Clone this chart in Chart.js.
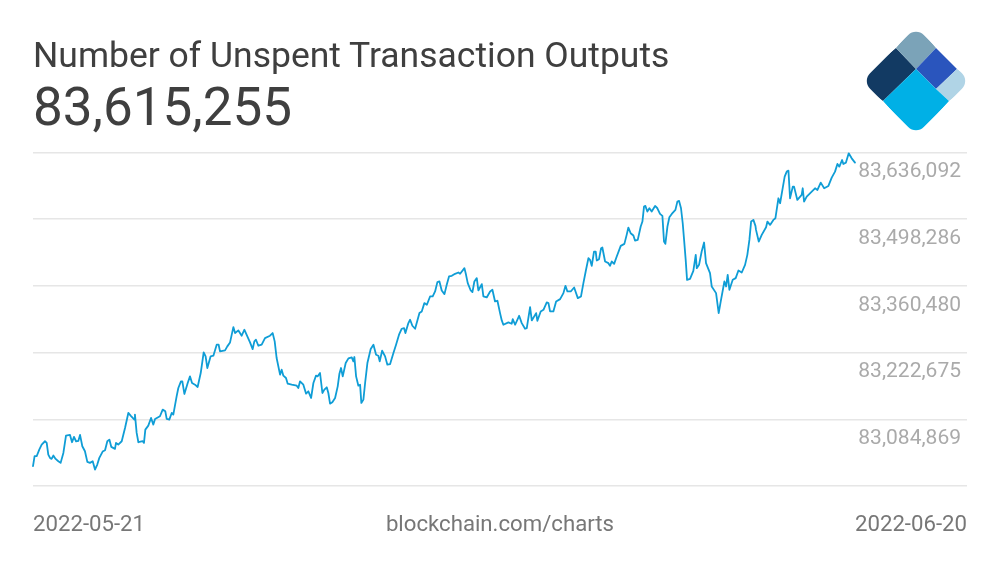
<!DOCTYPE html>
<html><head><meta charset="utf-8">
<script src="https://cdn.jsdelivr.net/npm/chart.js@4"></script>
<style>
html,body{margin:0;padding:0;background:#fff;width:1000px;height:563px;overflow:hidden}
#wrap{position:relative;width:1000px;height:563px;font-family:Roboto,sans-serif}
canvas{position:absolute;left:0;top:0}
#t1{position:absolute;left:33px;top:35px;font-size:35.5px;line-height:40px;color:#3f3f3f;white-space:nowrap}
#t2{position:absolute;left:33px;top:75px;font-size:53px;line-height:64px;color:#3f3f3f;white-space:nowrap}
#logo{position:absolute;left:850px;top:20px}
</style></head><body>
<div id="wrap">
<canvas id="c" width="1000" height="563"></canvas>
<div id="t1">Number of Unspent Transaction Outputs</div>
<div id="t2">83,615,255</div>
<svg id="logo" width="130" height="120" viewBox="850 20 130 120">
<defs><clipPath id="d"><rect x="878" y="43" width="76" height="76" rx="11" transform="rotate(45 916 81)"/></clipPath></defs>
<g clip-path="url(#d)">
<polygon points="916,69 896,48 856,81 883,101" fill="#123a63"/>
<polygon points="896,48 916,24 936,48 916,69" fill="#7ba3b8"/>
<polygon points="936,48 957,69 936,89 916,69" fill="#2a55bd"/>
<polygon points="957,69 976,81 949,101 936,89" fill="#b0d4e6"/>
<polygon points="916,69 936,89 949,101 916,138 883,101" fill="#00b0e6"/>
</g></svg>
</div>
<script>
const hoursSinceStart = [0,1.4,3.2,5.5,7.6,10.5,12,13.4,14.9,16.3,17.8,19.8,22.2,24.2,26.6,28.9,32.4,34.2,35.9,37.7,39.7,41.2,43.2,45.5,47.6,49.9,52.3,54.3,56.3,58.1,61,63.1,65.1,66.9,68.6,71.8,72.7,74.7,77.7,80.6,83.5,85.5,88.8,89.3,90.8,92.3,96.1,97.2,98.4,101,103.4,105.4,106.9,111.2,113.6,115.9,117.1,119.4,121.5,122.9,125.8,127.3,129.6,130.8,132.6,135.5,137.5,139.3,141.9,144.2,146.9,149.5,151.2,152.7,155.6,158,160.9,162.6,163.8,168.2,170.2,172.6,175.5,177,179.9,182.8,185.1,190.1,192.4,193.9,195.3,197.4,200.3,203.2,207.6,209.9,211.7,213.4,216.4,217.8,219.3,221.6,223.1,226.6,231,232.4,233.9,
236.8,239.2,241.2,243.6,245.6,247.9,249.4,251.4,253.5,255.2,257.3,258.7,260.2,262.2,264.6,266.9,268.4,269.8,271.3,273.9,276.3,279.2,280.6,281.5,283,285,286.5,287.6,289.4,290.9,292.9,295.8,298.2,300.5,302.5,303.7,305.8,308.4,310.4,312.8,315.7,318,320.6,323,325,326.2,328.8,330.3,332.3,334.7,338.5,340.5,342.8,345,347.8,350.1,352.2,354.2,356,358,360.4,362.4,364.4,366.8,369.7,372.6,374.1,377.9,379.3,380.8,383.4,384.9,386.6,388.7,390.1,393.1,394.5,397.4,400.4,402.4,404.7,406.8,409.1,410.6,412,416.4,419.3,420.2,422.3,425.8,428.1,431,432.5,435.4,436.9,440.7,441.8,444.7,447.1,450,451.5,452.9,455.8,458.2,461.7,464.6,466.4,468.1,471,474,477.2,
480,482.1,484.1,486.5,487.9,489.4,491.4,492.9,493.8,495.8,497.6,498.7,501.1,504,505.4,506.9,509,511.3,514.8,518,520,521.5,523.5,525.9,527.3,529.7,532.3,533.8,535.2,536.4,538.1,539.9,541.9,544.9,546.9,549.2,551.3,552.7,553.9,555.7,557.4,559.5,562.7,564.4,565.9,567.6,569.1,570.3,571.7,572.9,575.5,578.4,580.5,581.4,583.4,585.7,587.8,589.5,591.6,593,594.5,598.3,600.6,602.4,605.6,607.1,608.5,610,612.9,615.5,617.9,620.8,623.7,625.7,627.5,629,631,632.8,633.3,635.7,638.3,642.1,643.3,645.6,648.5,650.3,652.9,654.4,656.4,658.4,660.2,661.7,663.1,665.5,666.6,669.5,673.3,674.2,675.4,677.7,682.1,685,687.1,690,693,696.7,699.6,702.5,704.6,706.3,708.7,709.8,712,714.5,717.1,720];
const utxoCount = [82987949,83008580,83008580,83022334,83032649,83039526,83036088,83012018,83005141,83003078,83009955,83003078,82998264,82994826,83015457,83051217,83052593,83037463,83048467,83039526,83040214,83052593,83029211,83018895,82996889,82994826,82998264,82981072,82991387,83005141,83018208,83020959,83039526,83042965,83027836,83023709,83036088,83032649,83039526,83067034,83097981,83092479,83084227,83094542,83056719,83037463,83039526,83036088,83063596,83071848,83087665,83073911,83085602,83091104,83104858,83101419,83085602,83084227,83097981,83094542,83132366,83149558,83163312,83163312,83137180,83159874,83173628,83159874,83156435,83151622,83180505,83223142,83214890,83190820,83214890,83216265,83238959,83238959,83225205,83227269,83235521,83243773,83275408,83263029,83268531,83257527,83269906,83243773,83230019,83245836,83249275,83236896,83238959,83252713,83257527,83263029,83245836,83211451,83177066,83187382,83175003,83170189,83158499,83156435,83154372,83149558,83163312,
83156430,83137863,83142676,83128922,83159869,83174998,83173623,83180500,83139238,83146115,83150929,83139238,83117232,83119982,83128922,83152992,83179125,83190815,83173623,83201131,83210759,83212822,83204569,83213510,83173623,83154367,83156430,83118607,83125484,83159869,83201131,83230014,83238954,83218323,83216260,83204569,83226576,83214885,83197692,83199068,83221762,83238954,83259585,83271964,83273339,83263024,83283655,83290532,83278153,83271964,83304286,83307724,83324917,83321478,83338671,83338671,83348986,83368242,83369617,83351049,83343485,83362740,83379933,83381308,83385435,83388185,83385435,83397125,83383371,83366179,83351049,83347611,83369617,83376494,83351049,83364116,83338671,83336608,83348986,83352425,83328355,83329731,83304286,83289157,83280216,83285030,83282280,83291907,83280216,83298784,83283655,83271964,83273339,83316665,83289157,83304286,83288469,83307724,83311163,83326292,83324917,83307724,83307724,83328355,83333169,83345548,83360677,83348986,83348986,83357239,83335232,
83338661,83366169,83390238,83417746,83414308,83401929,83431500,83431500,83412933,83415683,83438377,83439753,83410869,83407431,83401929,83410869,83406056,83421185,83443191,83447318,83465885,83481015,83469324,83464510,83454195,83455570,83483078,83493393,83524340,83525715,83514024,83520901,83514024,83525715,83520901,83509211,83505084,83452131,83447318,83483078,83502334,83509211,83517463,83534655,83536031,83520901,83489955,83455570,83414308,83373046,83375109,83391614,83424623,83397115,83403992,83431500,83450068,83407431,83395052,83386800,83359292,83345538,83304276,83328345,83369607,83359292,83383361,83352415,83373046,83376484,83392302,83388175,83403992,83424623,83455570,83493393,83496832,83484453,83476201,83452131,83465885,83481703,83493393,83486516,83496832,83500270,83541532,83531217,83558725,83586233,83596548,83598612,83541532,83565602,83565602,83538094,83548409,83562163,83534655,83544971,83555286,83562163,83558725,83573854,83562163,83566977,83584170,83596548,83612366,83606864,83620618,83612366,83615116,83634372,83624056,83615255];
const yTickValues = [83636092,83498286,83360480,83222675,83084869,82947063];
const yTickLabels = ["83,636,092","83,498,286","83,360,480","83,222,675","83,084,869",""];
const xTickHours = [0,409,818.1];
const xTickLabels = ["2022-05-21","blockchain.com/charts","2022-06-20"];

new Chart(document.getElementById('c'),{
  type:'line',
  data:{datasets:[{
    data:hoursSinceStart.map((h,i)=>({x:h,y:utxoCount[i]})),
    borderColor:'#0f9dd6',borderWidth:1.8,borderJoinStyle:'round',borderCapStyle:'round',pointRadius:0,tension:0,fill:false,clip:false
  }]},
  options:{
    responsive:false,animation:false,devicePixelRatio:1,
    layout:{padding:{left:33,right:33,top:152.5,bottom:0}},
    plugins:{legend:{display:false},tooltip:{enabled:false},title:{display:false}},
    scales:{
      x:{type:'linear',min:0,max:818.1,
        grid:{display:false},border:{display:false},
        afterBuildTicks:s=>{s.ticks=xTickHours.map(v=>({value:v}));},
        afterFit:s=>{s.height=77;},
        ticks:{align:'inner',maxRotation:0,autoSkip:false,padding:18,color:'#777',
          font:{family:'Roboto',size:22.2},
          callback:(v,i)=>xTickLabels[i]}
      },
      y:{type:'linear',position:'right',min:82947063,max:83636092,
        grid:{color:'#e6e6e6',lineWidth:1.5,drawTicks:false},border:{display:false},
        afterBuildTicks:s=>{s.ticks=yTickValues.map(v=>({value:v}));},
        afterFit:s=>{s.width=0;},
        ticks:{mirror:true,padding:-6,autoSkip:false,color:'#aaa',
          font:{family:'Roboto',size:21,lineHeight:1.86},
          callback:(v,i)=>['',yTickLabels[i]]}
      }
    }
  }
});
</script>
</body></html>
